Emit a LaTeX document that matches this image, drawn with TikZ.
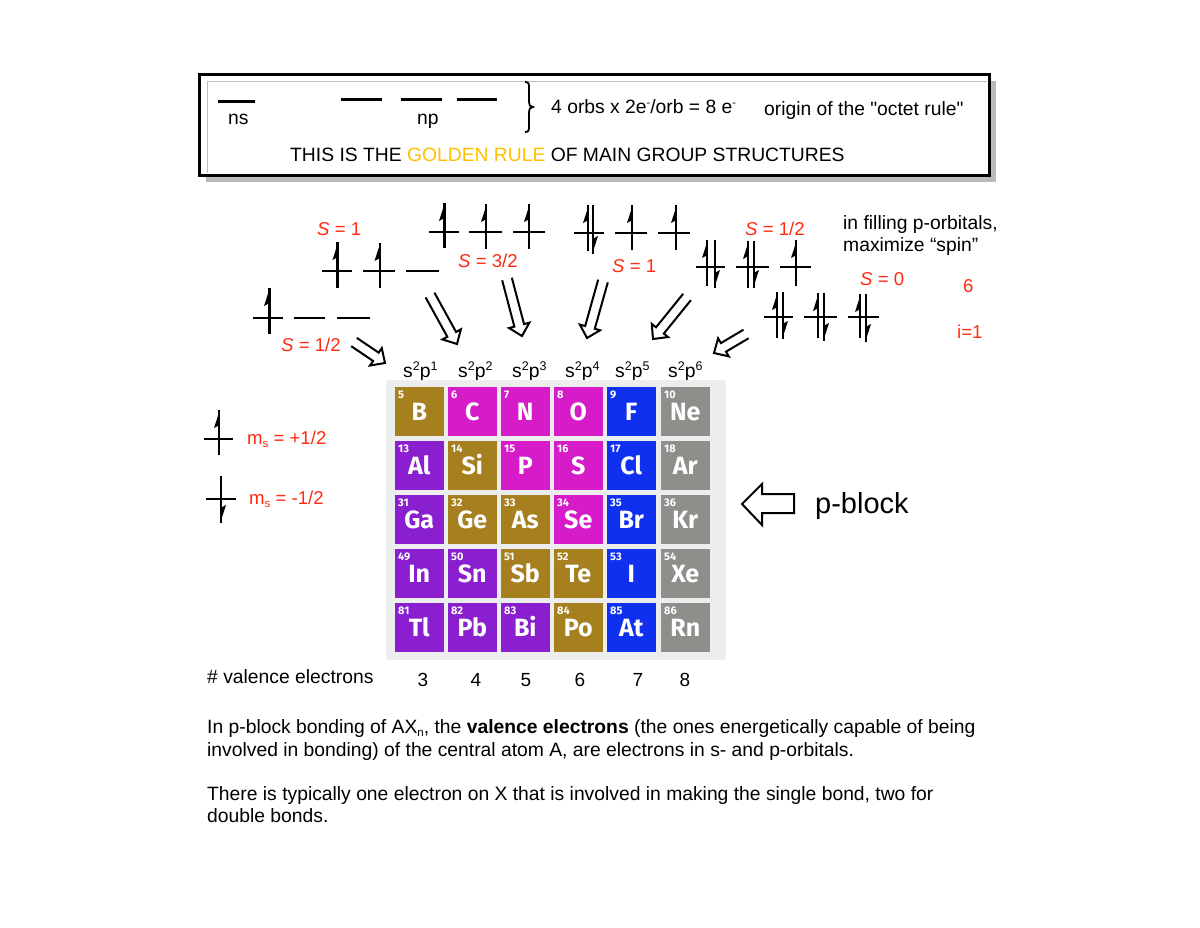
\documentclass[tikz,border=0pt]{standalone}
\usepackage{fontspec}
\setmainfont{Liberation Sans}
\newfontfamily\qfont{Liberation Sans}
\newfontfamily\tblfont{Fira Sans}
\usetikzlibrary{calc}
\definecolor{goldr}{HTML}{FFC000}
\definecolor{redl}{HTML}{FF2A10}
\definecolor{cg}{HTML}{A67F1E}
\definecolor{cm}{HTML}{D61BC8}
\definecolor{cp}{HTML}{8A1FD0}
\definecolor{cb}{HTML}{1030F0}
\definecolor{cy}{HTML}{8E8E8A}
\definecolor{tblbg}{HTML}{ECEEEE}
\tikzset{
  lbl/.style={anchor=base west,inner sep=0pt,font=\fontsize{19.3}{22}\selectfont,text=black},
  redlbl/.style={lbl,text=redl,font=\fontsize{18.6}{22}\selectfont},
  num/.style={anchor=base,inner sep=0pt,font=\fontsize{19}{22}\selectfont},
  orb/.style={line width=2.4pt},
  boxorb/.style={line width=3pt},
  spin/.style={line width=2.3pt},
  hollowline/.style={line width=2pt,line join=miter,draw=black,fill=none},
  cellbox/.style={anchor=north west,minimum width=48.5pt,minimum height=49pt,inner sep=0pt,draw=none},
  sym/.style={anchor=base,inner sep=0pt,text=white,font=\tblfont\bfseries\fontsize{25}{28}\selectfont},
  cnum/.style={anchor=base west,inner sep=0pt,text=white,font=\tblfont\bfseries\fontsize{11}{12}\selectfont},
}
\newcommand\orbl[3]{\draw[orb] (#1,#3) -- (#2,#3);}
\newcommand\upE[4][2.3pt]{% x, top, bottom
  \draw[spin,line width=#1] (#2,#3) -- (#2,#4);
  \fill (#2+0.8,#3) -- (#2-5,#3+18) -- (#2+0.5,#3+15) -- cycle;}
\newcommand\dnE[4][2.3pt]{% x, top, bottom
  \draw[spin,line width=#1] (#2,#3) -- (#2,#4);
  \fill (#2-0.8,#4) -- (#2+5,#4-18) -- (#2-0.5,#4-15) -- cycle;}
\newcommand\hollow[3]{%
  \coordinate (#1t) at (#2);
  \coordinate (#1h) at (#3);
  \coordinate (#1n) at ($(#1h)!11pt!(#1t)$);
  \draw[hollowline] ($(#1t)!5pt!90:(#1h)$) -- ($(#1n)!5pt!90:(#1h)$) -- ($(#1n)!10.5pt!90:(#1h)$)
     -- (#1h) -- ($(#1n)!10.5pt!-90:(#1h)$) -- ($(#1n)!5pt!-90:(#1h)$) -- ($(#1t)!5pt!-90:(#1h)$);}
\newcommand\pcell[5]{% x y color num sym
  \node[cellbox,fill=#3] (cell#5) at (#1,#2) {};
  \node[cnum] (num#5) at (#1+3,#2+11) {#4};
  \node[sym] (sym#5) at (#1+24.25,#2+33) {#5};}
\newcommand\spl[1]{s\raisebox{7pt}{\fontsize{12.5}{13}\selectfont 2}p\raisebox{7pt}{\fontsize{12.5}{13}\selectfont #1}}
\newcommand\supm{\raisebox{7pt}{\fontsize{11}{11}\selectfont -}}
\newcommand\subs[1]{\raisebox{-3.5pt}{\fontsize{11.5}{12}\selectfont #1}}
\begin{document}
\begin{tikzpicture}[x=1pt,y=-1pt]
\useasboundingbox (0,0) rectangle (1200,927);
\fill[white] (0,0) rectangle (1200,927);

% top box
\fill[black!27] (206,81) rectangle (996,182);
\draw[line width=3pt,fill=white] (199.5,74.5) rectangle (989,175);
\draw[line width=0.8pt,black!25] (207,173) -- (207,81.5) -- (987,81.5);
\draw[boxorb] (218,101) -- (255,101);
\draw[boxorb] (341,99.5) -- (382,99.5);
\draw[boxorb] (401,99.5) -- (442,99.5);
\draw[boxorb] (457,99.5) -- (497,99.5);
\draw[line width=1.8pt] (525,82) .. controls (529,82) and (529,84) .. (529,88) -- (529,102)
   .. controls (529,105) and (530,107) .. (533,107) .. controls (530,107) and (529,109) .. (529,112)
   -- (529,126) .. controls (529,130) and (529,132) .. (525,132);
\node[lbl] (ns) at (228,124) {ns};
\node[lbl] (np) at (417,124) {np};
\node[lbl] (orbs) at (551,113) {4 orbs x 2e\supm/orb = 8 e\supm};
\node[lbl] (origin) at (764,115) {\qfont origin of the "octet rule"};
\node[lbl] (golden) at (290,161) {THIS IS THE \textcolor{goldr}{GOLDEN RULE} OF MAIN GROUP STRUCTURES};

% p1
\orbl{253}{283}{318}\orbl{294}{325}{318}\orbl{337}{370}{318}
\upE[3pt]{269}{288}{334}
% p2
\orbl{322}{352}{271}\orbl{363}{395}{271}\orbl{406}{439}{271}
\upE[3pt]{337.5}{242}{288}\upE[2pt]{379.5}{243}{288}
% p3
\orbl{429}{459}{232}\orbl{469}{502}{232}\orbl{513}{545}{232}
\upE[3pt]{444}{203}{248}\upE[2pt]{486}{204}{249}\upE[2pt]{529}{204}{249}
% p4
\orbl{574}{604}{233}\orbl{615}{647}{233}\orbl{658}{690}{233}
\upE[2pt]{588}{205}{251}\dnE[2.2pt]{593}{205}{254}\upE[2pt]{632}{205}{250}\upE[2.6pt]{676}{205}{250}
% p5
\orbl{696}{725}{267}\orbl{736}{769}{267}\orbl{780}{811}{267}
\upE[2pt]{707}{240}{286}\dnE[2.2pt]{715}{240}{288}
\upE[2.6pt]{748}{241}{288}\dnE[2.2pt]{754}{241}{288}
\upE[2pt]{796}{240}{286}
% p6
\orbl{764}{793}{317}\orbl{804}{837}{317}\orbl{848}{879}{317}
\upE[2pt]{777}{292}{338}\dnE[2.2pt]{783}{292}{339}
\upE[2pt]{818}{293}{338}\dnE[2.2pt]{824}{293}{341}
\upE[2pt]{860}{294}{338}\dnE[2.2pt]{866}{294}{342}

% block arrows
\hollow{aa}{354,342}{385,363}
\hollow{ab}{430,295}{457,344}
\hollow{ac}{507,279}{522,336}
\hollow{ad}{603,281}{587,338}
\hollow{ae}{687,297}{653,339}
\hollow{af}{746,334}{714,353}

% spin labels
\node[redlbl] (S1) at (317,235) {\textit{S} = 1};
\node[redlbl] (S32) at (458,267) {\textit{S} = 3/2};
\node[redlbl] (S12a) at (281,351) {\textit{S} = 1/2};
\node[redlbl] (S1b) at (612,272) {\textit{S} = 1};
\node[redlbl] (S12b) at (745,235) {\textit{S} = 1/2};
\node[redlbl] (S0) at (860,285) {\textit{S} = 0};
\node[redlbl] (six) at (963,292) {6};
\node[redlbl] (ione) at (957,338) {i=1};
\node[lbl] (fill1) at (843,229) {in filling p-orbitals,};
\node[lbl] (fill2) at (843,251) {maximize “spin”};

% configs
\node[lbl] (c1) at (403,377) {\spl{1}};
\node[lbl] (c2) at (458,377) {\spl{2}};
\node[lbl] (c3) at (512,377) {\spl{3}};
\node[lbl] (c4) at (565,377) {\spl{4}};
\node[lbl] (c5) at (615,377) {\spl{5}};
\node[lbl] (c6) at (668,377) {\spl{6}};

% periodic table
\fill[tblbg] (386,380) rectangle (726,660);
\pcell{395}{387}{cg}{5}{B}\pcell{448}{387}{cm}{6}{C}\pcell{501}{387}{cm}{7}{N}\pcell{554}{387}{cm}{8}{O}\pcell{607}{387}{cb}{9}{F}\pcell{661}{387}{cy}{10}{Ne}
\pcell{395}{441}{cp}{13}{Al}\pcell{448}{441}{cg}{14}{Si}\pcell{501}{441}{cm}{15}{P}\pcell{554}{441}{cm}{16}{S}\pcell{607}{441}{cb}{17}{Cl}\pcell{661}{441}{cy}{18}{Ar}
\pcell{395}{495}{cp}{31}{Ga}\pcell{448}{495}{cg}{32}{Ge}\pcell{501}{495}{cg}{33}{As}\pcell{554}{495}{cm}{34}{Se}\pcell{607}{495}{cb}{35}{Br}\pcell{661}{495}{cy}{36}{Kr}
\pcell{395}{549}{cp}{49}{In}\pcell{448}{549}{cp}{50}{Sn}\pcell{501}{549}{cg}{51}{Sb}\pcell{554}{549}{cg}{52}{Te}\pcell{607}{549}{cb}{53}{I}\pcell{661}{549}{cy}{54}{Xe}
\pcell{395}{603}{cp}{81}{Tl}\pcell{448}{603}{cp}{82}{Pb}\pcell{501}{603}{cp}{83}{Bi}\pcell{554}{603}{cg}{84}{Po}\pcell{607}{603}{cb}{85}{At}\pcell{661}{603}{cy}{86}{Rn}

% ms legend
\draw[line width=2pt] (204,439) -- (233,439);
\upE[2pt]{219}{410}{455}
\draw[line width=2.6pt] (206,499) -- (236,499);
\dnE[2pt]{221}{476}{523}
\node[redlbl] (msp) at (247,444) {m\subs{s} = +1/2};
\node[redlbl] (msm) at (249,504) {m\subs{s} = -1/2};

% p-block
\draw[line width=2pt,line join=miter] (794,494) -- (762,494) -- (762,484) -- (742,504) -- (762,525) -- (762,513) -- (794,513) -- cycle;
\node[lbl,font=\fontsize{29}{32}\selectfont] (pblock) at (815,513) {p-block};

% bottom
\node[lbl] (valence) at (207,683) {\# valence electrons};
\node[num] (n3) at (423,686) {3};
\node[num] (n4) at (476,686) {4};
\node[num] (n5) at (526,686) {5};
\node[num] (n6) at (580,686) {6};
\node[num] (n7) at (638,686) {7};
\node[num] (n8) at (685,686) {8};
\node[lbl] (p1) at (207,733) {In p-block bonding of AX\subs{n}, the \textbf{valence electrons} (the ones energetically capable of being};
\node[lbl] (p2) at (207,756) {involved in bonding) of the central atom A, are electrons in s- and p-orbitals.};
\node[lbl] (p3) at (207,800) {There is typically one electron on X that is involved in making the single bond, two for};
\node[lbl] (p4) at (207,822) {double bonds.};
\end{tikzpicture}
\end{document}
